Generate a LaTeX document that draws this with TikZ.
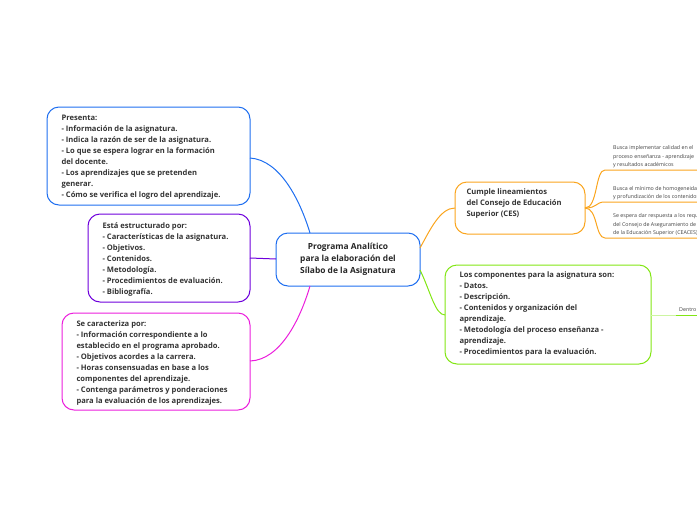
\documentclass[tikz,border=0pt]{standalone}
\usepackage{fontspec}
\setmainfont{Open Sans}
\begin{document}
\begin{tikzpicture}[x=1pt,y=-1pt,
 box/.style={draw,line width=1pt,rounded corners=12pt,align=left,inner sep=0pt,font=\fontsize{7.6}{11}\selectfont\bfseries,text=black!80},
 small/.style={anchor=south west,align=left,inner sep=1pt,font=\fontsize{5.3}{8.5}\selectfont,text=black!75},
 con/.style={line width=1pt}]
\useasboundingbox (0,0) rectangle (697,520);
\clip (0,0) rectangle (697,520);
\definecolor{cblue}{RGB}{30,110,240}
\definecolor{cpurple}{RGB}{110,0,220}
\definecolor{cmag}{RGB}{235,30,220}
\definecolor{corange}{RGB}{250,165,30}
\definecolor{cgreen}{RGB}{130,230,20}
\draw[cblue,line width=1pt,rounded corners=12pt] (276,233) rectangle (420,286);
\node[font=\fontsize{8.4}{12}\selectfont\bfseries,align=center,text=black!85] (c) at (348,259.5) {Programa Analítico\\para la elaboración del\\Sílabo de la Asignatura};
\coordinate (cw) at (276,259);
\draw[cblue,line width=1pt,rounded corners=12pt] (47,107) rectangle (250,205);
\node[box,draw=none,anchor=north west] (p) at (61,115) {Presenta:\\- Información de la asignatura.\\- Indica la razón de ser de la asignatura.\\- Lo que se espera lograr en la formación\\del docente.\\- Los aprendizajes que se pretenden\\generar.\\- Cómo se verifica el logro del aprendizaje.};
\draw[cpurple,line width=1pt,rounded corners=12pt] (88,214) rectangle (250,302);
\node[box,draw=none,anchor=north west] (e) at (102,222) {Está estructurado por:\\- Características de la asignatura.\\- Objetivos.\\- Contenidos.\\- Metodología.\\- Procedimientos de evaluación.\\- Bibliografía.};
\draw[cmag,line width=1pt,rounded corners=12pt] (62,313) rectangle (250,410);
\node[box,draw=none,anchor=north west] (s) at (76,320) {Se caracteriza por:\\- Información correspondiente a lo\\establecido en el programa aprobado.\\- Objetivos acordes a la carrera.\\- Horas consensuadas en base a los\\componentes del aprendizaje.\\- Contenga parámetros y ponderaciones\\para la evaluación de los aprendizajes.};
\draw[corange,line width=1pt,rounded corners=12pt] (455,182) rectangle (585,234);
\node[box,draw=none,anchor=north west] (k) at (466,188) {Cumple lineamientos\\del Consejo de Educación\\Superior (CES)};
\draw[cgreen,line width=1pt,rounded corners=12pt] (445,265) rectangle (651,364);
\node[box,draw=none,anchor=north west] (g) at (459,271) {Los componentes para la asignatura son:\\- Datos.\\- Descripción.\\- Contenidos y organización del\\aprendizaje.\\- Metodología del proceso enseñanza -\\aprendizaje.\\- Procedimientos para la evaluación.};
% connectors
\coordinate (pE) at (250,158); \coordinate (eE) at (250,258); \coordinate (sE) at (250,361);
\coordinate (kW) at (455,208); \coordinate (gW) at (445,315);
\coordinate (c1) at (310,233); \coordinate (c3) at (310,286);
\coordinate (c4) at (420,248); \coordinate (c5) at (420,270);
\draw[con,cblue] (c1) .. controls (300,200) and (280,160) .. (pE);
\draw[con,cpurple] (cw) -- (eE);
\draw[con,cmag] (c3) .. controls (300,320) and (280,360) .. (sE);
\draw[con,corange] (c4) .. controls (430,230) and (440,208) .. (kW);
\draw[con,cgreen] (c5) .. controls (430,290) and (435,315) .. (gW);
% orange subitems
\coordinate (kE) at (585,208);
\coordinate (o1) at (605,170); \coordinate (o2) at (605,202); \coordinate (o3) at (605,238);
\coordinate (o1e) at (697,170); \coordinate (o2e) at (697,202); \coordinate (o3e) at (697,238);
\draw[con,corange] (kE) .. controls (598,208) and (595,170) .. (o1) -- (o1e);
\draw[con,corange] (kE) .. controls (598,208) and (595,202) .. (o2) -- (o2e);
\draw[con,corange] (kE) .. controls (598,208) and (595,238) .. (o3) -- (o3e);
\node[small] (t1) at (612,169) {Busca implementar calidad en el\\proceso enseñanza - aprendizaje\\y resultados académicos};
\node[small] (t2) at (612,201) {Busca el mínimo de homogeneidad\\y profundización de los contenidos};
\node[small] (t3) at (612,237) {Se espera dar respuesta a los requerimientos\\del Consejo de Aseguramiento de la Calidad\\de la Educación Superior (CEACES)};
\coordinate (gE) at (651,315); \coordinate (ge) at (697,315);
\draw[cgreen!40,line width=1pt] (gE) -- (ge);
\draw[con,cgreen] (676,315) -- (ge);
\node[small] (t4) at (678,313) {Dentro};
\end{tikzpicture}
\end{document}
